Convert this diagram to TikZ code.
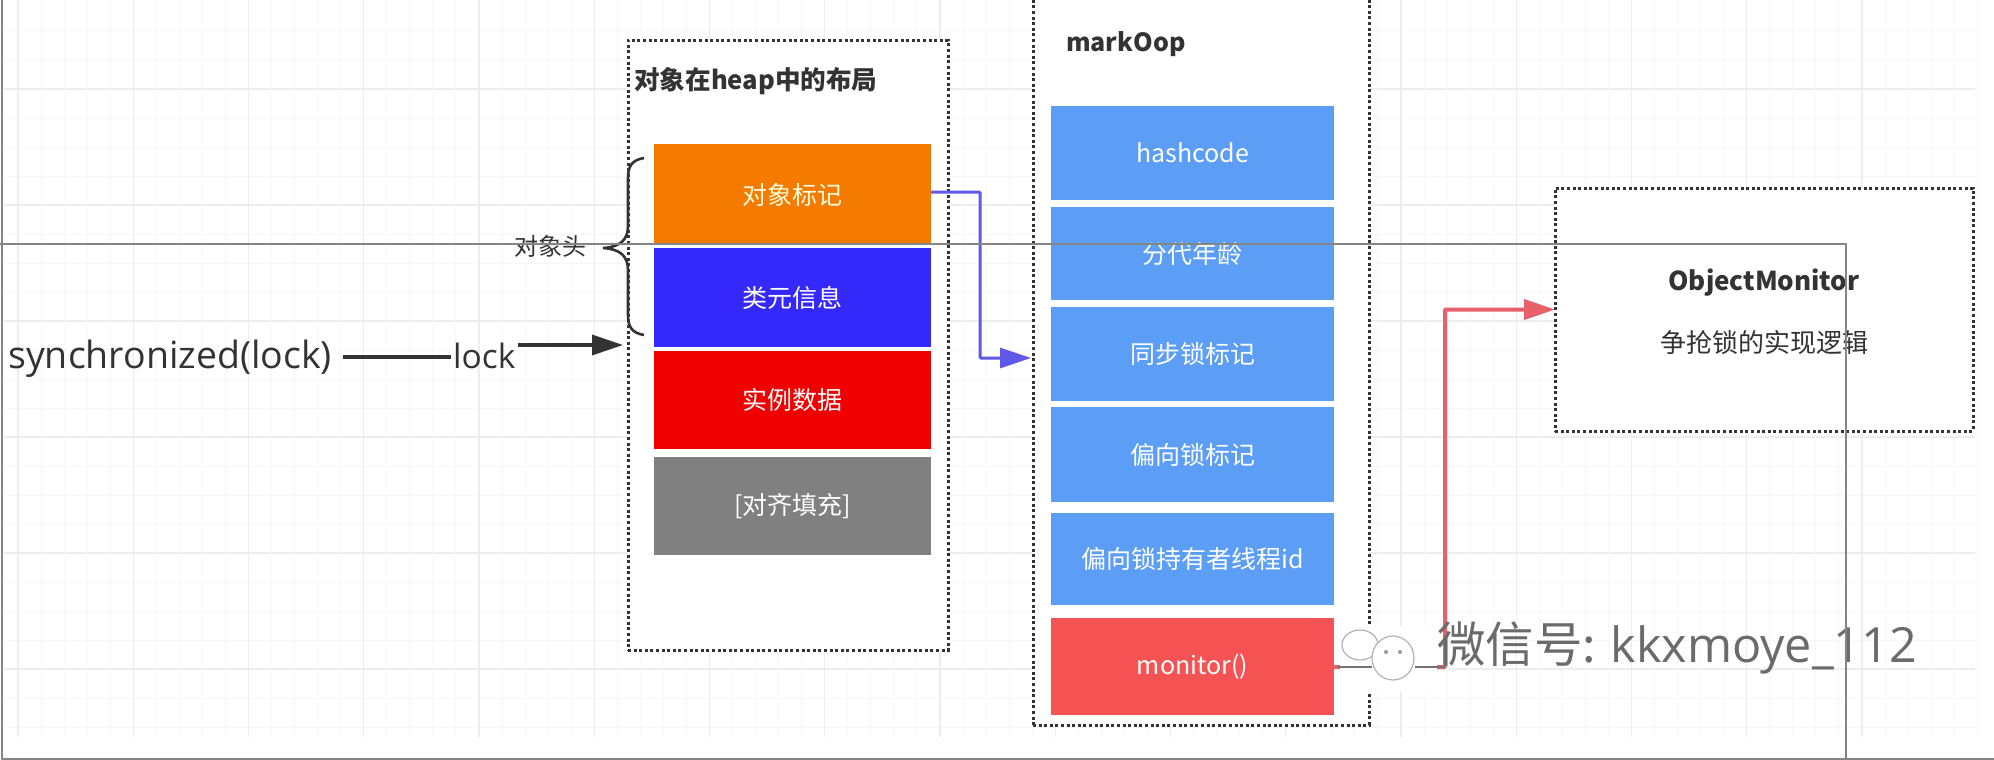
\documentclass[tikz,border=0pt]{standalone}
\usepackage{fontspec}
\setmainfont{Noto Sans CJK SC}
\newfontfamily\latinfont{Open Sans}
\usetikzlibrary{arrows.meta,calc}
\definecolor{inkdark}{HTML}{333333}
\definecolor{cOrange}{HTML}{F57A00}
\definecolor{cBlue}{HTML}{3429FA}
\definecolor{cRed}{HTML}{F00000}
\definecolor{cGray}{HTML}{808080}
\definecolor{cSky}{HTML}{5C9DF5}
\definecolor{cCoral}{HTML}{F55353}
\definecolor{cArrowBlue}{HTML}{6058E8}
\definecolor{cArrowRed}{HTML}{E8606A}
\newcommand{\fsz}[1]{\fontsize{#1}{#1}\selectfont}
\tikzset{
  x=1pt,y=-1pt,
  gridminor/.style={draw=black!3,line width=1pt},
  gridmajor/.style={draw=black!7,line width=1.4pt},
  framerule/.style={draw=black!48,line width=2pt},
  dotbox/.style={draw=inkdark,fill=white,line width=3pt,dash pattern=on 3pt off 2.6pt,inner sep=0pt,outer sep=0pt},
  cell/.style={inner sep=0pt,outer sep=0pt,text=white,font=\fsz{25}},
  title/.style={inner sep=0pt,text=inkdark},
  conn/.style={-{Triangle[length=31pt,width=20pt]},rounded corners=1pt}
}
\begin{document}
\begin{tikzpicture}
\useasboundingbox (0,0) rectangle (1994,760);
\fill[white] (0,0) rectangle (1994,760);
% grid
\foreach \n in {0,...,24} \draw[gridminor] (4,{31+29*\n}) -- (1975,{31+29*\n});
\foreach \n in {0,...,6} \draw[gridmajor] (4,{89+116*\n-116}) -- (1975,{89+116*\n-116});
\foreach \n in {0,...,85} \draw[gridminor] ({18+23.05*\n},0) -- ({18+23.05*\n},737);
\foreach \n in {0,...,16} \draw[gridmajor] ({18+115.25*\n},0) -- ({18+115.25*\n},737);
% containers
\node[dotbox,minimum width=320pt,minimum height=610pt] (heap) at (788,345.5) {};
\node[dotbox,minimum width=336pt,minimum height=735pt] (mark) at (1201,357.5) {};
\node[dotbox,minimum width=418pt,minimum height=243pt] (mon) at (1764,309.5) {};
% heap cells
\node[cell,fill=cOrange,minimum width=277pt,minimum height=101pt,text=white!85!yellow] (c1) at (792.5,194.5) {对象标记};
\node[cell,fill=cBlue,minimum width=277pt,minimum height=99pt] (c2) at (792.5,297.5) {类元信息};
\node[cell,fill=cRed,minimum width=277pt,minimum height=98pt] (c3) at (792.5,400) {实例数据};
\node[cell,fill=cGray,minimum width=277pt,minimum height=98pt] (c4) at (792.5,506) {[对齐填充]};
% mark cells
\node[cell,fill=cSky,minimum width=283pt,minimum height=94pt] (m1) at (1192.5,153) {hashcode};
\node[cell,fill=cSky,minimum width=283pt,minimum height=93pt] (m2) at (1192.5,253.5) {分代年龄};
\node[cell,fill=cSky,minimum width=283pt,minimum height=94pt] (m3) at (1192.5,354) {同步锁标记};
\node[cell,fill=cSky,minimum width=283pt,minimum height=95pt] (m4) at (1192.5,454.5) {偏向锁标记};
\node[cell,fill=cSky,minimum width=283pt,minimum height=92pt] (m5) at (1192.5,559) {偏向锁持有者线程id};
\node[cell,fill=cCoral,minimum width=283pt,minimum height=97pt] (m6) at (1192.5,666.5) {monitor()};
% titles
\node[title,anchor=west,font=\fsz{25.6}\bfseries] (t1) at (634,81) {对象在heap中的布局};
\node[title,anchor=west,font=\fsz{25}\bfseries] (t2) at (1066,44) {markOop};
\node[title,font=\fsz{26}\bfseries] (t3) at (1764,283) {ObjectMonitor};
\node[title,font=\fsz{26}] (t4) at (1764,343) {争抢锁的实现逻辑};
\node[title,font=\fsz{24}] (t5) at (550,246) {对象头};
% brace
\draw[inkdark,line width=2.6pt] (644,158) .. controls (632,160) and (628,166) .. (628,178) -- (628,226)
  .. controls (628,240) and (620,247) .. (603,248) .. controls (620,249) and (628,256) .. (628,270)
  -- (628,315) .. controls (628,327) and (632,333) .. (644,335);
% lock line
\node[title,anchor=west,font=\latinfont\fsz{37.5}] (sync) at (8,359) {synchronized(lock)};
\node[title,anchor=west,font=\latinfont\fsz{33.5},inner sep=2pt] (lock) at (451,356) {lock};
\coordinate (syncout) at (343,357);
\draw[inkdark,line width=3.5pt] (syncout) -- (syncout -| lock.west);
\coordinate (lockhit) at (623,345);
\draw[conn,inkdark,line width=3.5pt] (lock.east |- lockhit) -- (lockhit);
% connectors
\coordinate (bendB) at (980,192);
\coordinate (hitB) at (1031,358);
\draw[conn,cArrowBlue,line width=3pt] (c1.east |- bendB) -- (bendB) |- (hitB);
\coordinate (bendR) at (1445,667);
\draw[conn,cArrowRed,line width=4pt] (m6.east |- bendR) -- (bendR) |- (mon.west);
% watermark
\fill[white] (1340,626) rectangle (1437,692);
\draw[black!30,line width=1.2pt,fill=white] (1360,645) ellipse (18 and 15);
\draw[black!30,line width=1.2pt,fill=white] (1393,658) ellipse (21 and 22);
\draw[black!55,line width=2pt] (1338,667) -- (1372,667) (1415,667) -- (1445,667);
\fill[black!40] (1386,652) circle (2) (1400,652) circle (2);
\node[inner sep=0pt,anchor=west,text=black!58,font=\fsz{48.5}] (wm) at (1437,648) {微信号: {\latinfont kkxmoye\_112}};
% frame
\draw[framerule] (2,0) -- (2,759) -- (1994,759);
\draw[framerule] (0,244) -- (1846,244) -- (1846,759);
\end{tikzpicture}
\end{document}
